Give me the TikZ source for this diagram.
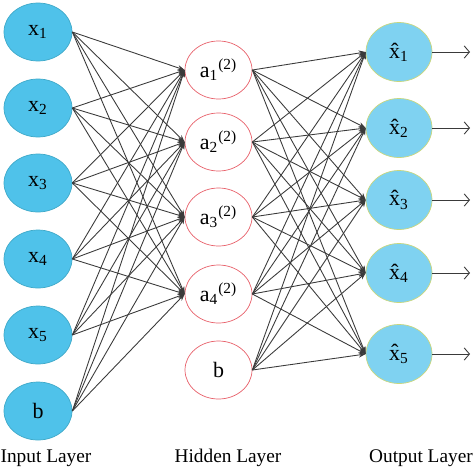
\documentclass[tikz,border=0pt]{standalone}
\usepackage{fontspec}
\setmainfont{Liberation Serif}
\usepackage{tikz}
\usetikzlibrary{arrows.meta,shapes.geometric}

\definecolor{inblue}{HTML}{4FC2EA}
\definecolor{inedge}{HTML}{3FA9C8}
\definecolor{outblue}{HTML}{7FD2F1}
\definecolor{outedge}{HTML}{C9D77E}
\definecolor{hidred}{HTML}{E8606A}
\definecolor{wire}{HTML}{3A3A3A}

\tikzset{
	inputnode/.style={ellipse,draw=inedge,fill=inblue,minimum width=1.36cm,minimum height=1.16cm,inner sep=0pt,font=\fontsize{12.5}{14}\selectfont},
	hiddennode/.style={ellipse,draw=hidred,fill=white,minimum width=1.34cm,minimum height=1.16cm,inner sep=0pt,font=\fontsize{12.5}{14}\selectfont},
	outputnode/.style={ellipse,draw=outedge,fill=outblue,minimum width=1.32cm,minimum height=1.18cm,inner sep=0pt,font=\fontsize{12.5}{14}\selectfont},
	wireline/.style={draw=wire,line width=0.5pt,-{Stealth[length=4pt,width=3pt]}},
	outline/.style={draw=wire,line width=0.5pt,-{Straight Barb[length=3pt,width=7pt]}},
	layerlabel/.style={font=\fontsize{11}{13}\selectfont}
}

\begin{document}
\begin{tikzpicture}
	\useasboundingbox (0,0) rectangle (9.48,9.4);
	% Input layer
	\node (in1) [inputnode] at (0.76,8.76) {x\textsubscript{1}};
	\node (in2) [inputnode] at (0.76,7.24) {x\textsubscript{2}};
	\node (in3) [inputnode] at (0.76,5.74) {x\textsubscript{3}};
	\node (in4) [inputnode] at (0.76,4.22) {x\textsubscript{4}};
	\node (in5) [inputnode] at (0.76,2.70) {x\textsubscript{5}};
	\node (in6) [inputnode] at (0.76,1.18) {b};
	% Hidden layer
	\node (hid1) [hiddennode] at (4.37,8.00) {a\textsubscript{1}\textsuperscript{(2)}};
	\node (hid2) [hiddennode] at (4.37,6.56) {a\textsubscript{2}\textsuperscript{(2)}};
	\node (hid3) [hiddennode] at (4.37,5.06) {a\textsubscript{3}\textsuperscript{(2)}};
	\node (hid4) [hiddennode] at (4.37,3.52) {a\textsubscript{4}\textsuperscript{(2)}};
	\node (hid5) [hiddennode] at (4.37,2.00) {b};
	% Output layer
	\node (out1) [outputnode] at (7.98,8.36) {\^{x}\textsubscript{1}};
	\node (out2) [outputnode] at (7.98,6.84) {\^{x}\textsubscript{2}};
	\node (out3) [outputnode] at (7.98,5.40) {\^{x}\textsubscript{3}};
	\node (out4) [outputnode] at (7.98,3.94) {\^{x}\textsubscript{4}};
	\node (out5) [outputnode] at (7.98,2.32) {\^{x}\textsubscript{5}};
	% Connections input -> hidden and hidden -> output
	\foreach \i in {1,...,6}
		\foreach \j in {1,...,4}
			\draw [wireline] (in\i.east) -- (hid\j.west);
	\foreach \i in {1,...,5}
		\foreach \j in {1,...,5}
			\draw [wireline] (hid\i.east) -- (out\j.west);
	% Outputs leave to the right
	\foreach \j in {1,...,5} {
		\coordinate (end\j) at (9.4,0 |- out\j);
		\draw [outline] (out\j.east) -- (end\j);
	}
	% Layer names
	\node (inlabel) [layerlabel] at (0.92,0.24) {Input Layer};
	\node (hidlabel) [layerlabel] at (4.56,0.24) {Hidden Layer};
	\node (outlabel) [layerlabel] at (8.42,0.24) {Output Layer};
\end{tikzpicture}
\end{document}
